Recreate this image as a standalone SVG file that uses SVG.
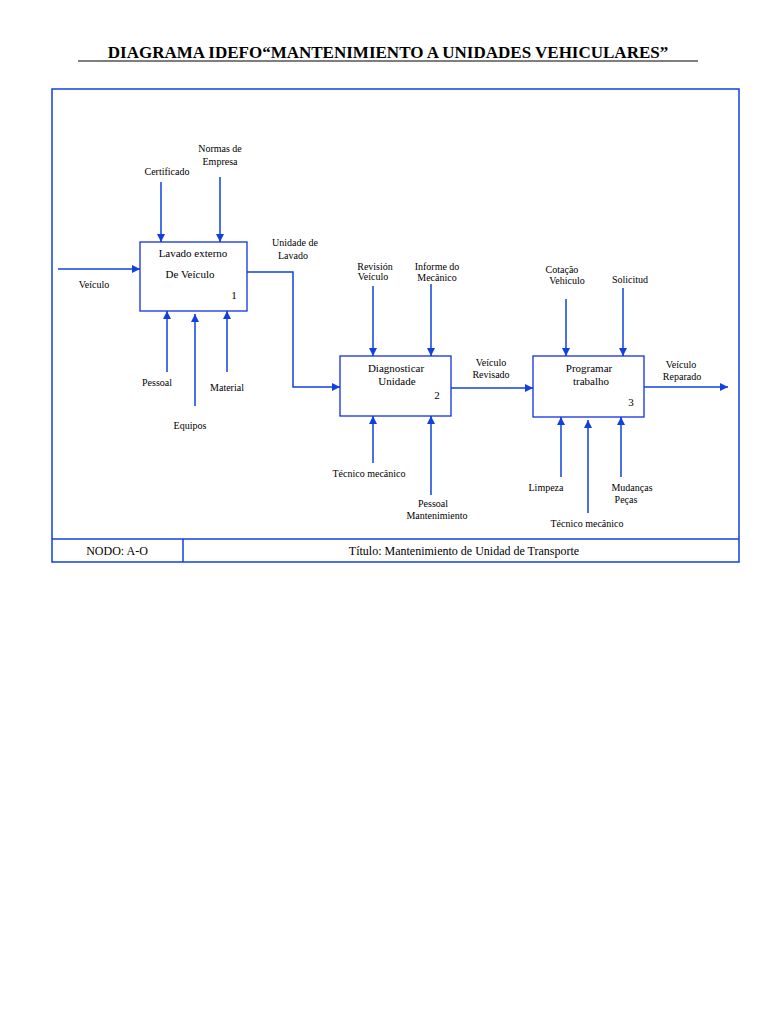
<svg xmlns="http://www.w3.org/2000/svg" width="768" height="1024" viewBox="0 0 768 1024">
<defs><marker id="a" viewBox="0 0 10 10" refX="10" refY="5" markerWidth="8" markerHeight="8" markerUnits="userSpaceOnUse" orient="auto"><path d="M0,0L10,5L0,10z" fill="#1040e0"/></marker></defs>
<style>
text{font-family:"Liberation Serif",serif;font-size:10px;fill:#000;text-anchor:middle}
.b{fill:#fff;stroke:#1030e0;stroke-width:1.3}
.c{fill:none;stroke:#1040e0;stroke-width:1.5;marker-end:url(#a)}
.f{fill:none;stroke:#1040e0;stroke-width:1.5}
</style>
<rect width="768" height="1024" fill="#fff"/>
<text x="388" y="58" style="font-size:17px;font-weight:bold">DIAGRAMA IDEFO“MANTENIMIENTO A UNIDADES VEHICULARES”</text>
<line x1="78" y1="61" x2="698" y2="61" stroke="#000" stroke-width="1.2"/>
<g id="frame">
<rect x="52" y="89" width="687" height="473" class="f"/>
<line x1="52" y1="539" x2="739" y2="539" class="f"/>
<line x1="183" y1="539" x2="183" y2="562" class="f"/>
<text x="117" y="555" style="font-size:12px">NODO:  A-O</text>
<text x="464" y="555" style="font-size:12px">Título: Mantenimiento de Unidad de Transporte</text>
</g>
<g id="connectors">
<line x1="58" y1="269" x2="140" y2="269" class="c"/>
<line x1="161" y1="182" x2="161" y2="242" class="c"/>
<line x1="220" y1="177" x2="220" y2="242" class="c"/>
<line x1="167" y1="372" x2="167" y2="311" class="c"/>
<line x1="195" y1="406" x2="195" y2="314" class="c"/>
<line x1="227" y1="372" x2="227" y2="311" class="c"/>
<polyline points="247,272 293,272 293,387 340,387" class="c"/>
<line x1="373" y1="286" x2="373" y2="356" class="c"/>
<line x1="431" y1="284" x2="431" y2="356" class="c"/>
<line x1="373" y1="463" x2="373" y2="416" class="c"/>
<line x1="431" y1="495" x2="431" y2="416" class="c"/>
<line x1="451" y1="388" x2="533" y2="388" class="c"/>
<line x1="566" y1="299" x2="566" y2="356" class="c"/>
<line x1="623" y1="288" x2="623" y2="356" class="c"/>
<line x1="561" y1="477" x2="561" y2="417" class="c"/>
<line x1="588" y1="513" x2="588" y2="420" class="c"/>
<line x1="621" y1="477" x2="621" y2="417" class="c"/>
<line x1="644" y1="387" x2="728" y2="387" class="c"/>
</g>
<g id="labels">
<text x="94" y="288">Veículo</text>
<text x="167" y="175">Certificado</text>
<text x="220" y="152">Normas de</text><text x="220" y="165">Empresa</text>
<text x="157" y="386">Pessoal</text>
<text x="190" y="429">Equipos</text>
<text x="227" y="391">Material</text>
<text x="295" y="246">Unidade de</text><text x="293" y="259">Lavado</text>
<text x="375" y="270">Revisión</text><text x="373" y="280">Veículo</text>
<text x="437" y="270">Informe do</text><text x="437" y="281">Mecânico</text>
<text x="369" y="477">Técnico mecânico</text>
<text x="433" y="507">Pessoal</text><text x="437" y="519">Mantenimiento</text>
<text x="491" y="366">Veículo</text><text x="491" y="378">Revisado</text>
<text x="562" y="273">Cotação</text><text x="567" y="284">Vehiculo</text>
<text x="630" y="283">Solicitud</text>
<text x="546" y="491">Limpeza</text>
<text x="632" y="491">Mudanças</text><text x="626" y="503">Peças</text>
<text x="587" y="527">Técnico mecânico</text>
<text x="681" y="368">Veículo</text><text x="682" y="380">Reparado</text>
</g>
<g id="n1"><rect x="140" y="242" width="107" height="69" class="b"/>
<text x="193" y="257" style="font-size:11px">Lavado externo</text>
<text x="190" y="278" style="font-size:11px">De Veículo</text>
<text x="234" y="299" style="font-size:11px">1</text></g>
<g id="n2"><rect x="340" y="356" width="111" height="60" class="b"/>
<text x="396" y="372" style="font-size:11px">Diagnosticar</text>
<text x="397" y="385" style="font-size:11px">Unidade</text>
<text x="437" y="399" style="font-size:11px">2</text></g>
<g id="n3"><rect x="533" y="356" width="111" height="61" class="b"/>
<text x="589" y="372" style="font-size:11px">Programar</text>
<text x="591" y="385" style="font-size:11px">trabalho</text>
<text x="631" y="406" style="font-size:11px">3</text></g>
</svg>
